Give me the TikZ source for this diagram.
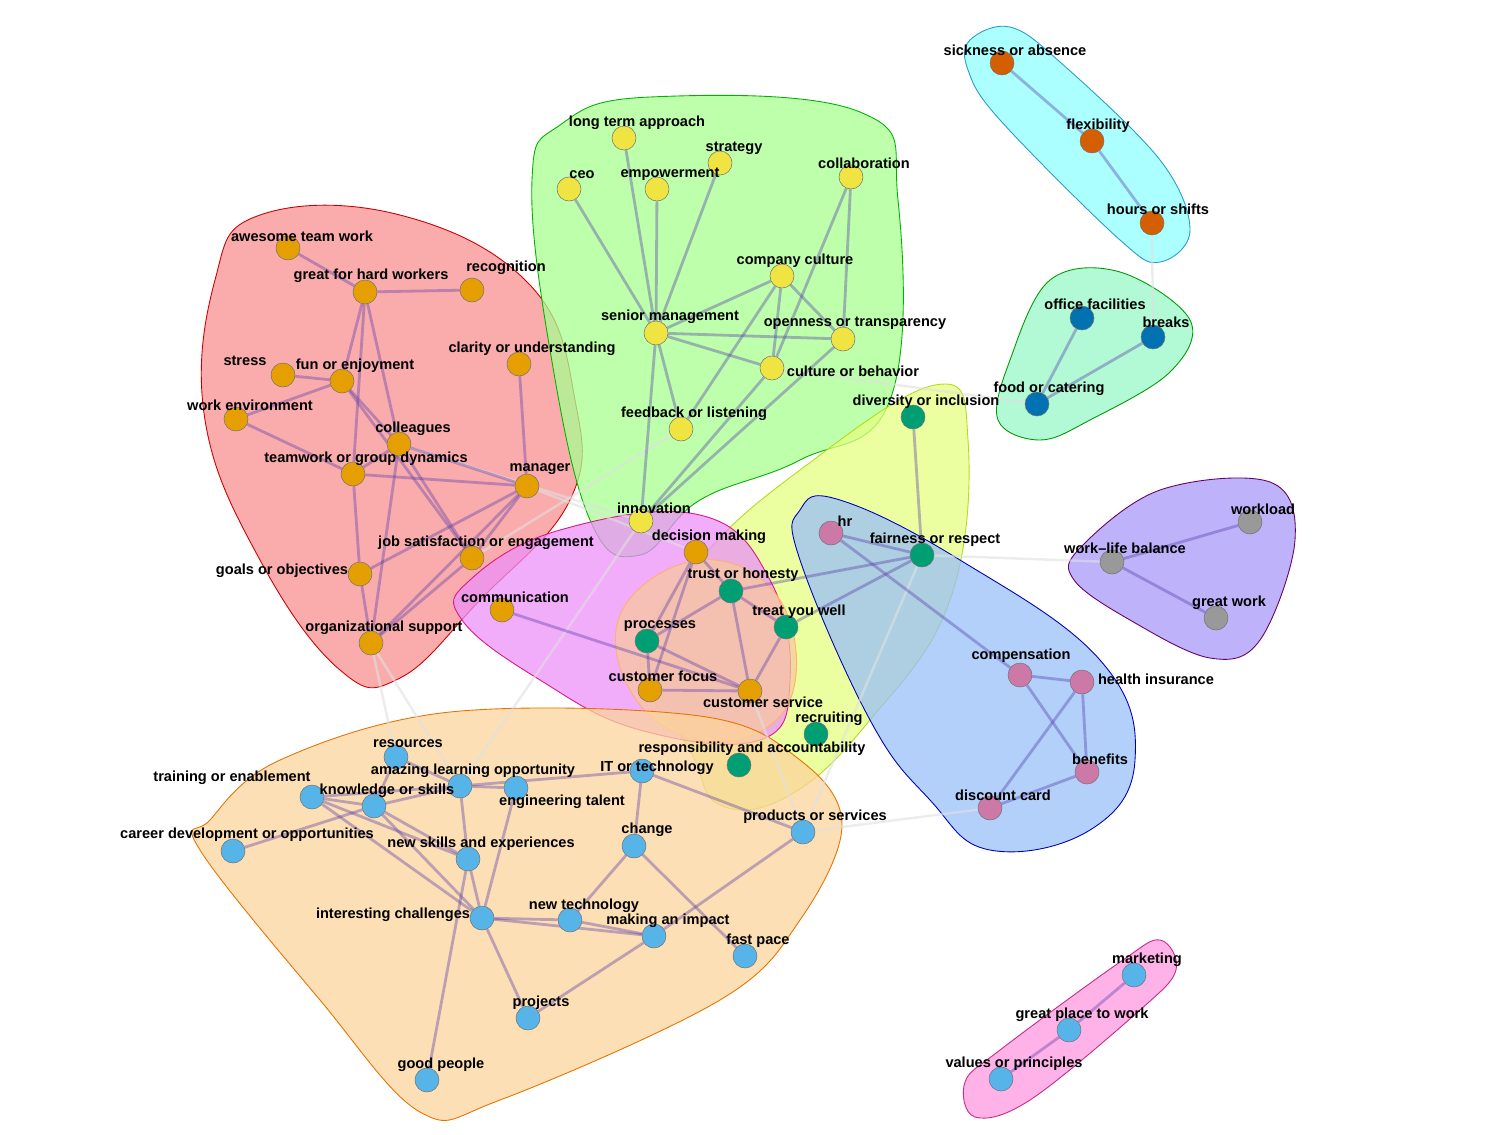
\documentclass[tikz,border=0pt]{standalone}
\usepackage{fontspec}
\setmainfont{Liberation Sans}
\begin{document}
\begin{tikzpicture}[x=0.02cm,y=0.02cm,
 dot/.style={circle,draw=black!55,line width=0.3pt,minimum size=0.48cm,inner sep=0pt},
 lbl/.style={font=\bfseries\fontsize{8.3}{9}\selectfont,inner sep=0pt},
 hull/.style={line width=0.5pt,fill opacity=0.75},
 ed/.style={draw=blue!60!violet!55!gray,line width=1.6pt,opacity=0.38},
 ex/.style={draw=black!12,line width=1.4pt,opacity=0.6}]
\useasboundingbox (0,0) rectangle (1490,-1134);
\definecolor{cO}{HTML}{E69F00}\definecolor{cY}{HTML}{F0E442}\definecolor{cG}{HTML}{009E73}
\definecolor{cP}{HTML}{CC79A7}\definecolor{cB}{HTML}{56B4E9}\definecolor{cV}{HTML}{D55E00}
\definecolor{cD}{HTML}{0072B2}\definecolor{cR}{HTML}{999999}
\definecolor{hR}{HTML}{F89090}\definecolor{hG}{HTML}{A8FF90}\definecolor{hY}{HTML}{E4FF80}
\definecolor{hM}{HTML}{EC90F8}\definecolor{hT}{HTML}{F8C8A0}\definecolor{hB}{HTML}{98C0F8}
\definecolor{hO}{HTML}{FCD49C}\definecolor{hC}{HTML}{90FFFF}\definecolor{hN}{HTML}{98F8C8}
\definecolor{hV}{HTML}{A898F8}\definecolor{hP}{HTML}{FF98E0}
% hulls
\begin{scope}[yscale=-1]
\draw[hull,draw=red!80!black,fill=hR] plot[smooth cycle,tension=0.7] coordinates{(260,215)(400,215)(530,285)(575,400)(570,500)(480,600)(400,678)(340,670)(260,560)(205,420)(215,280)};
\draw[hull,draw=green!70!black,fill=hG] plot[smooth cycle,tension=0.7] coordinates{(560,125)(650,97)(860,112)(898,200)(890,400)(800,460)(700,500)(640,555)(590,520)(550,350)(532,180)};
\draw[hull,draw=yellow!70!green,fill=hY] plot[smooth cycle,tension=0.7] coordinates{(935,385)(968,440)(950,600)(870,720)(790,795)(720,805)(690,750)(640,660)(700,560)(800,470)};
\draw[hull,draw=magenta!90!black,fill=hM] plot[smooth cycle,tension=0.7] coordinates{(470,580)(560,530)(700,515)(770,580)(790,680)(760,740)(640,730)(540,680)(462,620)};
\draw[hull,draw=orange!60,fill=hT] plot[smooth cycle,tension=0.7] coordinates{(620,615)(700,560)(780,600)(790,700)(720,742)(640,705)};
\draw[hull,draw=blue!70!black,fill=hB] plot[smooth cycle,tension=0.7] coordinates{(800,510)(840,500)(960,560)(1100,660)(1135,760)(1090,830)(990,850)(930,800)(870,720)(800,560)};
\draw[hull,draw=orange!90!black,fill=hO] plot[smooth cycle,tension=0.6] coordinates{(210,820)(280,760)(450,712)(700,716)(800,760)(842,825)(800,920)(720,1000)(500,1100)(420,1112)(320,1000)(200,850)};
\draw[hull,draw=cyan!80!black,fill=hC] plot[smooth cycle,tension=0.6] coordinates{(970,40)(1010,27)(1060,62)(1160,160)(1190,230)(1160,262)(1120,240)(1000,120)(968,70)};
\draw[hull,draw=green!60!black,fill=hN] plot[smooth cycle,tension=0.6] coordinates{(1050,280)(1120,272)(1190,320)(1170,372)(1090,420)(1040,440)(998,420)(1010,360)};
\draw[hull,draw=violet!80!black,fill=hV] plot[smooth cycle,tension=0.6] coordinates{(1080,548)(1160,490)(1270,482)(1295,540)(1260,640)(1210,658)(1130,620)(1074,580)};
\draw[hull,draw=magenta!80!black,fill=hP] plot[smooth cycle,tension=0.6] coordinates{(965,1082)(1000,1050)(1120,962)(1160,940)(1176,970)(1140,1010)(1030,1100)(975,1117)};
\end{scope}
\def\allnodes{%
\nd{atw}{288}{248}{cO}{awesome team work}{302}{236}
\nd{ghw}{365}{292}{cO}{great for hard workers}{371}{276}
\nd{rec}{472}{290}{cO}{recognition}{506}{268}
\nd{str}{283}{375}{cO}{stress}{245}{361}
\nd{fun}{342}{381}{cO}{fun or enjoyment}{355}{366}
\nd{cla}{519}{364}{cO}{clarity or understanding}{532}{349}
\nd{wen}{236}{419}{cO}{work environment}{250}{405}
\nd{col}{399}{444}{cO}{colleagues}{413}{429}
\nd{tea}{353}{474}{cO}{teamwork or group dynamics}{366}{459}
\nd{man}{527}{486}{cO}{manager}{540}{469}
\nd{job}{472}{558}{cO}{job satisfaction or engagement}{486}{543}
\nd{goa}{360}{574}{cO}{goals or objectives}{282}{571}
\nd{org}{371}{643}{cO}{organizational support}{384}{628}
\nd{com}{502}{610}{cO}{communication}{515}{597}
\nd{dec}{696}{552}{cO}{decision making}{709}{537}
\nd{cfo}{650}{690}{cO}{customer focus}{663}{676}
\nd{cse}{750}{691}{cO}{customer service}{763}{702}
\nd{lta}{624}{138}{cY}{long term approach}{637}{123}
\nd{stg}{720}{163}{cY}{strategy}{734}{148}
\nd{ceo}{569}{189}{cY}{ceo}{582}{175}
\nd{emp}{657}{189}{cY}{empowerment}{670}{174}
\nd{cll}{851}{177}{cY}{collaboration}{864}{163}
\nd{cc}{782}{276}{cY}{company culture}{795}{261}
\nd{sm}{656}{333}{cY}{senior management}{670}{317}
\nd{ope}{843}{339}{cY}{openness or transparency}{855}{323}
\nd{cub}{772}{368}{cY}{culture or behavior}{853}{371}
\nd{fee}{681}{429}{cY}{feedback or listening}{694}{414}
\nd{inn}{641}{521}{cY}{innovation}{654}{508}
\nd{div}{913}{417}{cG}{diversity or inclusion}{926}{402}
\nd{fai}{922}{555}{cG}{fairness or respect}{935}{540}
\nd{tru}{731}{591}{cG}{trust or honesty}{743}{575}
\nd{tyw}{786}{627}{cG}{treat you well}{799}{612}
\nd{pro}{647}{641}{cG}{processes}{660}{626}
\nd{rcr}{816}{734}{cG}{recruiting}{829}{719}
\nd{res}{739}{765}{cG}{responsibility and accountability}{752}{749}
\nd{hr}{831}{533}{cP}{hr}{845}{521}
\nd{cmp}{1020}{675}{cP}{compensation}{1021}{656}
\nd{hin}{1082}{682}{cP}{health insurance}{1156}{679}
\nd{ben}{1087}{772}{cP}{benefits}{1100}{759}
\nd{dis}{990}{808}{cP}{discount card}{1003}{795}
\nd{rso}{396}{757}{cB}{resources}{408}{744}
\nd{ama}{460}{786}{cB}{amazing learning opportunity}{473}{771}
\nd{tra}{312}{797}{cB}{training or enablement}{232}{778}
\nd{kno}{374}{806}{cB}{knowledge or skills}{387}{791}
\nd{eng}{516}{788}{cB}{engineering talent}{562}{802}
\nd{it}{642}{771}{cB}{IT or technology}{657}{768}
\nd{car}{233}{851}{cB}{career development or opportunities}{247}{835}
\nd{nsk}{468}{859}{cB}{new skills and experiences}{481}{844}
\nd{chg}{634}{846}{cB}{change}{647}{830}
\nd{prs}{803}{832}{cB}{products or services}{815}{817}
\nd{int}{482}{918}{cB}{interesting challenges}{393}{915}
\nd{ntc}{570}{920}{cB}{new technology}{584}{906}
\nd{mai}{654}{936}{cB}{making an impact}{668}{921}
\nd{fpa}{745}{956}{cB}{fast pace}{758}{941}
\nd{prj}{528}{1018}{cB}{projects}{541}{1003}
\nd{gpe}{427}{1080}{cB}{good people}{441}{1065}
\nd{mkt}{1134}{975}{cB}{marketing}{1147}{960}
\nd{gpw}{1069}{1030}{cB}{great place to work}{1082}{1015}
\nd{val}{1001}{1079}{cB}{values or principles}{1014}{1064}
\nd{sic}{1002}{63}{cV}{sickness or absence}{1015}{50}
\nd{fle}{1092}{141}{cV}{flexibility}{1098}{126}
\nd{hou}{1152}{223}{cV}{hours or shifts}{1158}{209}
\nd{off}{1082}{318}{cD}{office facilities}{1095}{304}
\nd{brk}{1153}{337}{cD}{breaks}{1166}{322}
\nd{foo}{1037}{404}{cD}{food or catering}{1049}{389}
\nd{wkl}{1250}{522}{cR}{workload}{1263}{509}
\nd{wlb}{1112}{562}{cR}{work–life balance}{1125}{548}
\nd{gwk}{1216}{618}{cR}{great work}{1229}{603}}
% pass 1: named anchors
\def\nd#1#2#3#4#5#6#7{\node[dot,draw=none] (#1) at (#2,-#3) {};}
\allnodes
\foreach \a/\b in {hou/brk,cub/foo,wlb/fai,org/rso,prs/dis,inn/col,man/dec,org/ama,fee/job,fai/prs,cse/prs,inn/ama}
 \draw[ex] (\a) -- (\b);
\foreach \a/\b in {atw/ghw,ghw/rec,ghw/fun,ghw/col,ghw/tea,str/fun,wen/fun,wen/tea,fun/col,col/man,col/job,tea/man,tea/goa,tea/col,cla/man,man/job,man/org,man/goa,goa/org,job/org,col/org,fun/job,
lta/sm,ceo/sm,emp/sm,stg/sm,cll/cub,cll/ope,cc/sm,cc/ope,cc/cub,sm/ope,sm/cub,sm/fee,sm/inn,cub/inn,cc/fee,ope/inn,
div/fai,hr/fai,fai/tru,fai/tyw,tru/pro,tru/tyw,tru/cse,pro/cse,tyw/cse,dec/tru,com/cse,dec/pro,dec/cfo,cfo/cse,pro/cfo,
hr/cmp,cmp/hin,cmp/ben,hin/ben,hin/dis,ben/dis,
rso/ama,rso/kno,tra/kno,tra/ama,tra/nsk,tra/int,car/kno,kno/ama,kno/nsk,kno/int,ama/it,ama/eng,ama/nsk,eng/int,it/chg,it/prs,chg/ntc,chg/fpa,nsk/int,nsk/gpe,int/ntc,int/prj,int/mai,ntc/mai,mai/prj,mai/prs,
sic/fle,fle/hou,off/foo,brk/foo,wkl/wlb,wlb/gwk,mkt/gpw,gpw/val}
 \draw[ed] (\a) -- (\b);
% pass 2: dots and labels
\def\nd#1#2#3#4#5#6#7{\node[dot,fill=#4] at (#2,-#3) {};}
\allnodes
\def\nd#1#2#3#4#5#6#7{\node[lbl] at (#6,-#7) {#5};}
\allnodes
\end{tikzpicture}
\end{document}
